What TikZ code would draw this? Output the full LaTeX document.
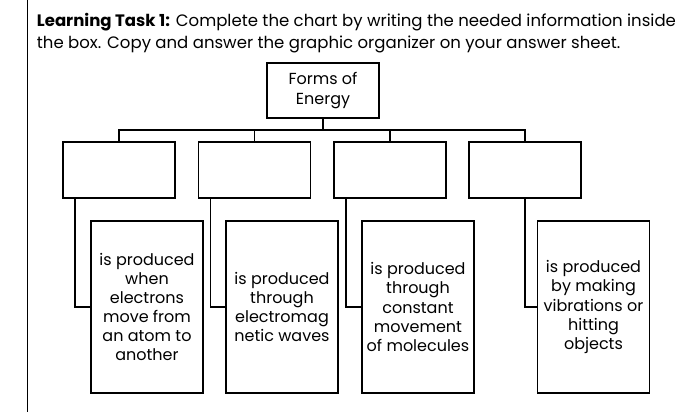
\documentclass[tikz,border=0pt]{standalone}
\usepackage{fontspec}
\setmainfont{Poppins}
\begin{document}
\begin{tikzpicture}[x=0.75pt,y=-0.75pt,line width=1.4pt,
  box/.style={draw,line width=1.4pt,inner sep=0pt},
  conn/.style={line width=1.4pt,line cap=rect}]
\useasboundingbox (0,0) rectangle (696,412);
\draw[line width=1pt] (27.5,0) -- (27.5,412);
\node[anchor=west,font=\fontsize{12.4}{15}\selectfont,inner sep=0pt] (l1) at (36,22) {\textbf{Learning Task 1:} Complete the chart by writing the needed information inside};
\node[anchor=west,font=\fontsize{12.4}{15}\selectfont,inner sep=0pt] (l2) at (36,44) {the box. Copy and answer the graphic organizer on your answer sheet.};
\node[box,minimum width=84pt,minimum height=41pt,align=center,font=\fontsize{12}{15}\selectfont] (top) at (323,90.5) {Forms of\\Energy};
\foreach \i/\x in {1/119,2/254.5,3/390,4/525}{
  \node[box,minimum width=84pt,minimum height=42pt] (e\i) at (\x,170) {};
}
\foreach \i/\x/\t in {1/147/{is produced\\when\\electrons\\move from\\an atom to\\another},2/282/{is produced\\through\\electromag\\netic waves},3/418/{is produced\\through\\constant\\movement\\of molecules},4/593.5/{is produced\\by making\\vibrations or\\hitting\\objects}}{
  \node[box,minimum width=84pt,minimum height=129pt,align=center,font=\fontsize{12}{14.3}\selectfont] (t\i) at (\x,307) {\t};
}
\coordinate (bus) at (323,130);
\draw[conn] (top.south) -- (bus);
\draw[conn] (e1.north) |- (bus) -| (e4.north);
\draw[conn] (e2.north) -- (e2.north |- bus);
\draw[conn] (e3.north) -- (e3.north |- bus);
\draw[conn] ([xshift=-33pt]e1.south) |- (t1.west);
\draw[conn] ([xshift=-33pt]e2.south) |- (t2.west);
\draw[conn] ([xshift=-33pt]e3.south) |- (t3.west);
\draw[conn] (e4.south) |- (t4.west);
\end{tikzpicture}
\end{document}
